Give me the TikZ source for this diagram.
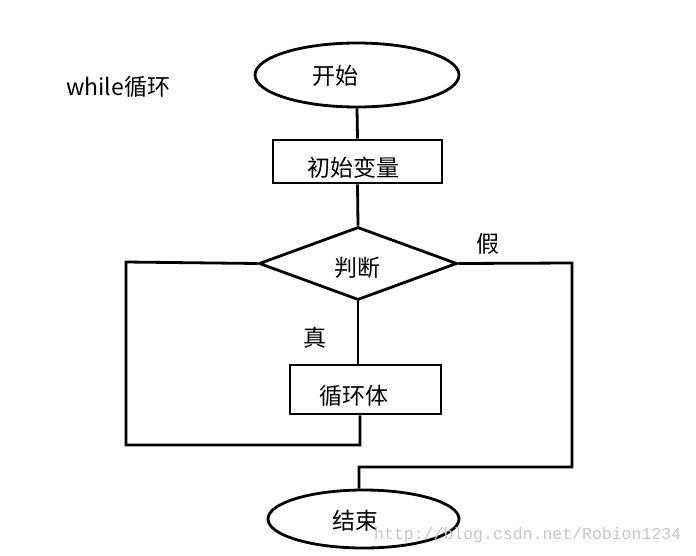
\documentclass[tikz,border=0pt]{standalone}
\usepackage{fontspec}
\setmainfont{Noto Sans CJK SC}
\newfontfamily\wmfont{Liberation Mono}
\usetikzlibrary{shapes.geometric}
\begin{document}
\begin{tikzpicture}[x=1pt,y=-1pt,
  line/.style={line width=2.8pt},
  term/.style={draw,line width=2.8pt,ellipse,inner sep=0pt},
  procbox/.style={draw,line width=2.8pt,rectangle,inner sep=0pt},
  lbl/.style={font=\fontsize{23}{25}\selectfont,inner sep=0pt}]
\useasboundingbox (0,0) rectangle (696,555);
\fill[white] (0,0) rectangle (696,555);
\node[term,minimum width=204pt,minimum height=64pt] (start) at (357,75) {};
\node[lbl] at (335,76) {开始};
\node[procbox,minimum width=169pt,minimum height=43pt] (init) at (357.5,161.5) {};
\node[lbl] at (353,168) {初始变量};
\node[draw,line width=2.8pt,diamond,aspect=2.7,inner sep=0pt,minimum width=198pt,minimum height=73pt] (cond) at (358,263.5) {};
\node[lbl] at (357,268) {判断};
\node[procbox,minimum width=151pt,minimum height=49pt] (body) at (365.5,389.5) {};
\node[lbl] at (354,396) {循环体};
\node[term,minimum width=191pt,minimum height=58pt] (stop) at (363.5,519) {};
\node[lbl] at (355,521) {结束};
\node[lbl] (t) at (315,338) {真};
\node[lbl] (f) at (488,244) {假};
\node[lbl,anchor=west] (title) at (66,87) {while循环};
\node[font=\wmfont\fontsize{16.5}{18}\selectfont,text=black!22,anchor=west,inner sep=0pt] (wm) at (374,535) {http://blog.csdn.net/Robion1234};
\coordinate (l1) at (126,262);
\coordinate (l2) at (126,445);
\coordinate (l3) at (360,445);
\coordinate (r1) at (572,263);
\coordinate (r2) at (572,467);
\coordinate (r3) at (359,467);
\draw[line] (start.south) -- (init.north);
\draw[line] (init.south) -- (cond.north);
\draw[line] (cond.south) -- (cond.south |- body.north);
\draw[line] (cond.west) -- (l1) -- (l2) -- (l3) -- (l3 |- body.south);
\draw[line] (cond.east) -- (r1) -- (r2) -- (r3) -- (r3 |- stop.north);
\end{tikzpicture}
\end{document}
